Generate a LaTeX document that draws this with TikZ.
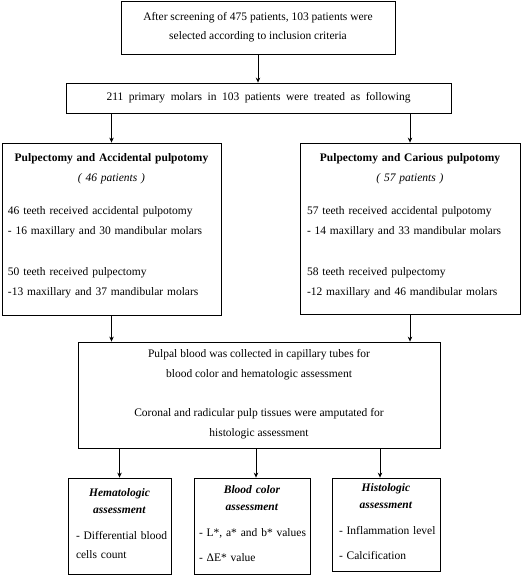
\documentclass[tikz,border=0pt]{standalone}
\usepackage{fontspec}
\setmainfont{Liberation Serif}
\usetikzlibrary{arrows.meta}
\newcommand{\dpad}[1]{\rule[-#1]{0pt}{#1}}
\newcommand{\ctr}[1]{\makebox[\linewidth]{#1}}

\begin{document}
\begin{tikzpicture}[x=1pt, y=1pt,
  box/.style={draw, line width=0.8pt, inner sep=0pt, font=\fontsize{11.5}{20}\selectfont},
  arr/.style={-{Stealth[length=5pt,width=4.5pt]}, line width=0.8pt}]

  \useasboundingbox (0,0) rectangle (521,-575);

  % screening and treatment
  \node[box, minimum width=274pt, minimum height=53pt, align=center] (screen) at (258,-27.5)
    {After screening of 475 patients, 103 patients were\\[-1pt]
     selected according to inclusion criteria\dpad{4pt}};
  \node[box, minimum width=385pt, minimum height=30pt, align=center] (treat) at (258.5,-98)
    {\makebox[304pt][s]{211 primary molars in 103 patients were treated as following}\dpad{3pt}};

  % the two groups
  \node[box, minimum width=219pt, minimum height=172pt, text width=207pt, align=left] (accid) at (111.5,-229)
    {\ctr{\textbf{Pulpectomy and Accidental pulpotomy}}\\
     \ctr{\textit{( 46 patients )}}\\[13pt]
     \mbox{46 teeth received accidental pulpotomy}\\
     \mbox{- 16 maxillary and 30 mandibular molars}\\[21pt]
     \mbox{50 teeth received pulpectomy}\\
     \mbox{-13 maxillary and 37 mandibular molars}\dpad{8pt}};
  \node[box, minimum width=220pt, minimum height=171pt, text width=206pt, align=left] (cari) at (410,-228.5)
    {\ctr{\textbf{Pulpectomy and Carious pulpotomy}}\\
     \ctr{\textit{( 57 patients )}}\\[13pt]
     \mbox{57 teeth received accidental pulpotomy}\\
     \mbox{- 14 maxillary and 33 mandibular molars}\\[21pt]
     \mbox{58 teeth received pulpectomy}\\
     \mbox{-12 maxillary and 46 mandibular molars}\dpad{8pt}};

  % sampling
  \node[box, minimum width=362pt, minimum height=106pt, align=center] (blood) at (259,-395)
    {Pulpal blood was collected in capillary tubes for\\
     blood color and hematologic assessment\\[19pt]
     Coronal and radicular pulp tissues were amputated for\\
     histologic assessment\dpad{4.5pt}};

  % assessments
  \node[box, minimum width=103pt, minimum height=96pt, text width=87pt, align=left] (hema) at (119.5,-526)
    {\ctr{\textbf{\textit{Hematologic}}}\\[-3pt]
     \ctr{\textbf{\textit{assessment}}}\\[6pt]
     \mbox{- Differential blood}\\[-1pt]
     \mbox{cells count}\dpad{5.5pt}};
  \node[box, minimum width=116pt, minimum height=96pt, text width=106pt, align=left] (color) at (252,-526)
    {\ctr{\textbf{\textit{Blood color}}}\\[-3pt]
     \ctr{\textbf{\textit{assessment}}}\\[6pt]
     \mbox{- L*, a* and b* values}\\[5pt]
     \mbox{- ΔE* value}\dpad{5.5pt}};
  \node[box, minimum width=108pt, minimum height=93pt, text width=94pt, align=left] (histo) at (386,-524.5)
    {\ctr{\textbf{\textit{Histologic}}}\\[-3pt]
     \ctr{\textbf{\textit{assessment}}}\\[6pt]
     \mbox{- Inflammation level}\\[5pt]
     \mbox{- Calcification}\dpad{5.5pt}};

  % arrows
  \draw[arr] (screen.south) -- (screen.south |- treat.north);
  \draw[arr] (accid.north |- treat.south) -- (accid.north);
  \draw[arr] (cari.north |- treat.south) -- (cari.north);
  \draw[arr] (accid.south) -- (accid.south |- blood.north);
  \draw[arr] (cari.south) -- (cari.south |- blood.north);
  \draw[arr] (hema.north |- blood.south) -- (hema.north);
  \draw[arr] ([xshift=4pt]color.north |- blood.south) -- ([xshift=4pt]color.north);
  \draw[arr] ([xshift=-6pt]histo.north |- blood.south) -- ([xshift=-6pt]histo.north);

\end{tikzpicture}
\end{document}
